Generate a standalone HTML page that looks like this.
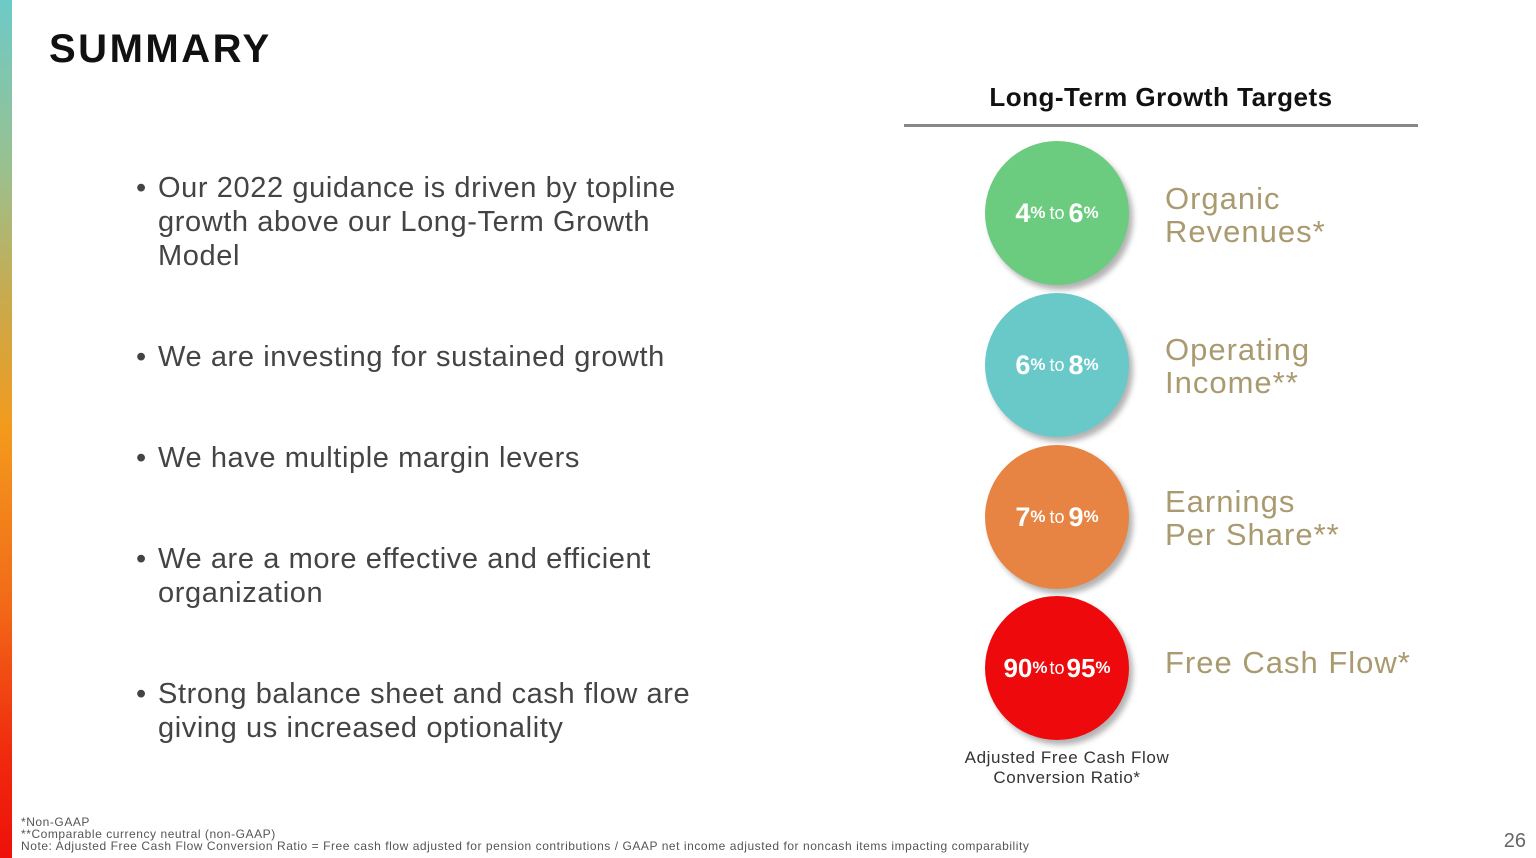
<!DOCTYPE html>
<html><head><meta charset="utf-8"><style>
body{margin:0;width:1536px;height:858px;overflow:hidden;background:#fff;font-family:"Liberation Sans",sans-serif;position:relative}
.bar{position:absolute;left:0;top:0;width:12px;height:858px;background:linear-gradient(#6dcac8 0%,#9bc08e 20%,#c9aa4c 35%,#f39a1d 50%,#f26b18 70%,#f02a0e 88%,#ee100a 100%)}
h1{position:absolute;left:49px;top:27px;margin:0;font-size:40px;font-weight:bold;letter-spacing:2.5px;color:#111}
.b{position:absolute;left:136px;font-size:29px;color:#444;line-height:34px;width:640px;letter-spacing:0.6px}
.b span{position:absolute;left:0}
.b div{margin-left:22px}
.tt{position:absolute;left:904px;top:82px;width:514px;text-align:center;font-size:26px;font-weight:bold;color:#111;letter-spacing:0.5px}
.line{position:absolute;left:904px;top:124px;width:514px;height:3px;background:#888}
.c{position:absolute;width:144px;height:144px;border-radius:50%;box-shadow:4px 5px 6px rgba(0,0,0,.3);color:#fff;font-weight:bold;font-size:27px;display:flex;align-items:center;justify-content:center;white-space:nowrap}
.c sup{font-size:17px;vertical-align:9px}
.c small{font-size:18px;font-weight:normal;margin:0 4px}
.l{position:absolute;left:1165px;font-size:31px;color:#a99a70;line-height:33px;letter-spacing:1px}
.cap{position:absolute;left:930px;top:748px;width:274px;text-align:center;font-size:17px;color:#333;line-height:20px;letter-spacing:0.6px}
.fn{position:absolute;left:21px;top:816px;font-size:12px;color:#555;line-height:12px;letter-spacing:0.55px}
.pg{position:absolute;right:10px;top:830px;font-size:20px;color:#666}
</style></head><body>
<div class="bar"></div>
<h1>SUMMARY</h1>
<div class="b" style="top:171px"><span>•</span><div>Our 2022 guidance is driven by topline<br>growth above our Long-Term Growth<br>Model</div></div>
<div class="b" style="top:340px"><span>•</span><div>We are investing for sustained growth</div></div>
<div class="b" style="top:441px"><span>•</span><div>We have multiple margin levers</div></div>
<div class="b" style="top:542px"><span>•</span><div>We are a more effective and efficient<br>organization</div></div>
<div class="b" style="top:677px"><span>•</span><div>Strong balance sheet and cash flow are<br>giving us increased optionality</div></div>
<div class="tt">Long-Term Growth Targets</div>
<div class="line"></div>
<div class="c" style="left:985px;top:141px;background:#6bcb7e">4<sup>%</sup><small>to</small>6<sup>%</sup></div>
<div class="c" style="left:985px;top:293px;background:#69c9c8">6<sup>%</sup><small>to</small>8<sup>%</sup></div>
<div class="c" style="left:985px;top:445px;background:#e78443">7<sup>%</sup><small>to</small>9<sup>%</sup></div>
<div class="c" style="left:985px;top:596px;background:#ee0a0c;font-size:26px">90<sup>%</sup><small style="margin:0 2px">to</small>95<sup>%</sup></div>
<div class="l" style="top:182px">Organic<br>Revenues*</div>
<div class="l" style="top:333px">Operating<br>Income**</div>
<div class="l" style="top:485px">Earnings<br>Per Share**</div>
<div class="l" style="top:646px">Free Cash Flow*</div>
<div class="cap">Adjusted Free Cash Flow<br>Conversion Ratio*</div>
<div class="fn">*Non-GAAP<br>**Comparable currency neutral (non-GAAP)<br>Note: Adjusted Free Cash Flow Conversion Ratio = Free cash flow adjusted for pension contributions / GAAP net income adjusted for noncash items impacting comparability</div>
<div class="pg">26</div>
</body></html>
